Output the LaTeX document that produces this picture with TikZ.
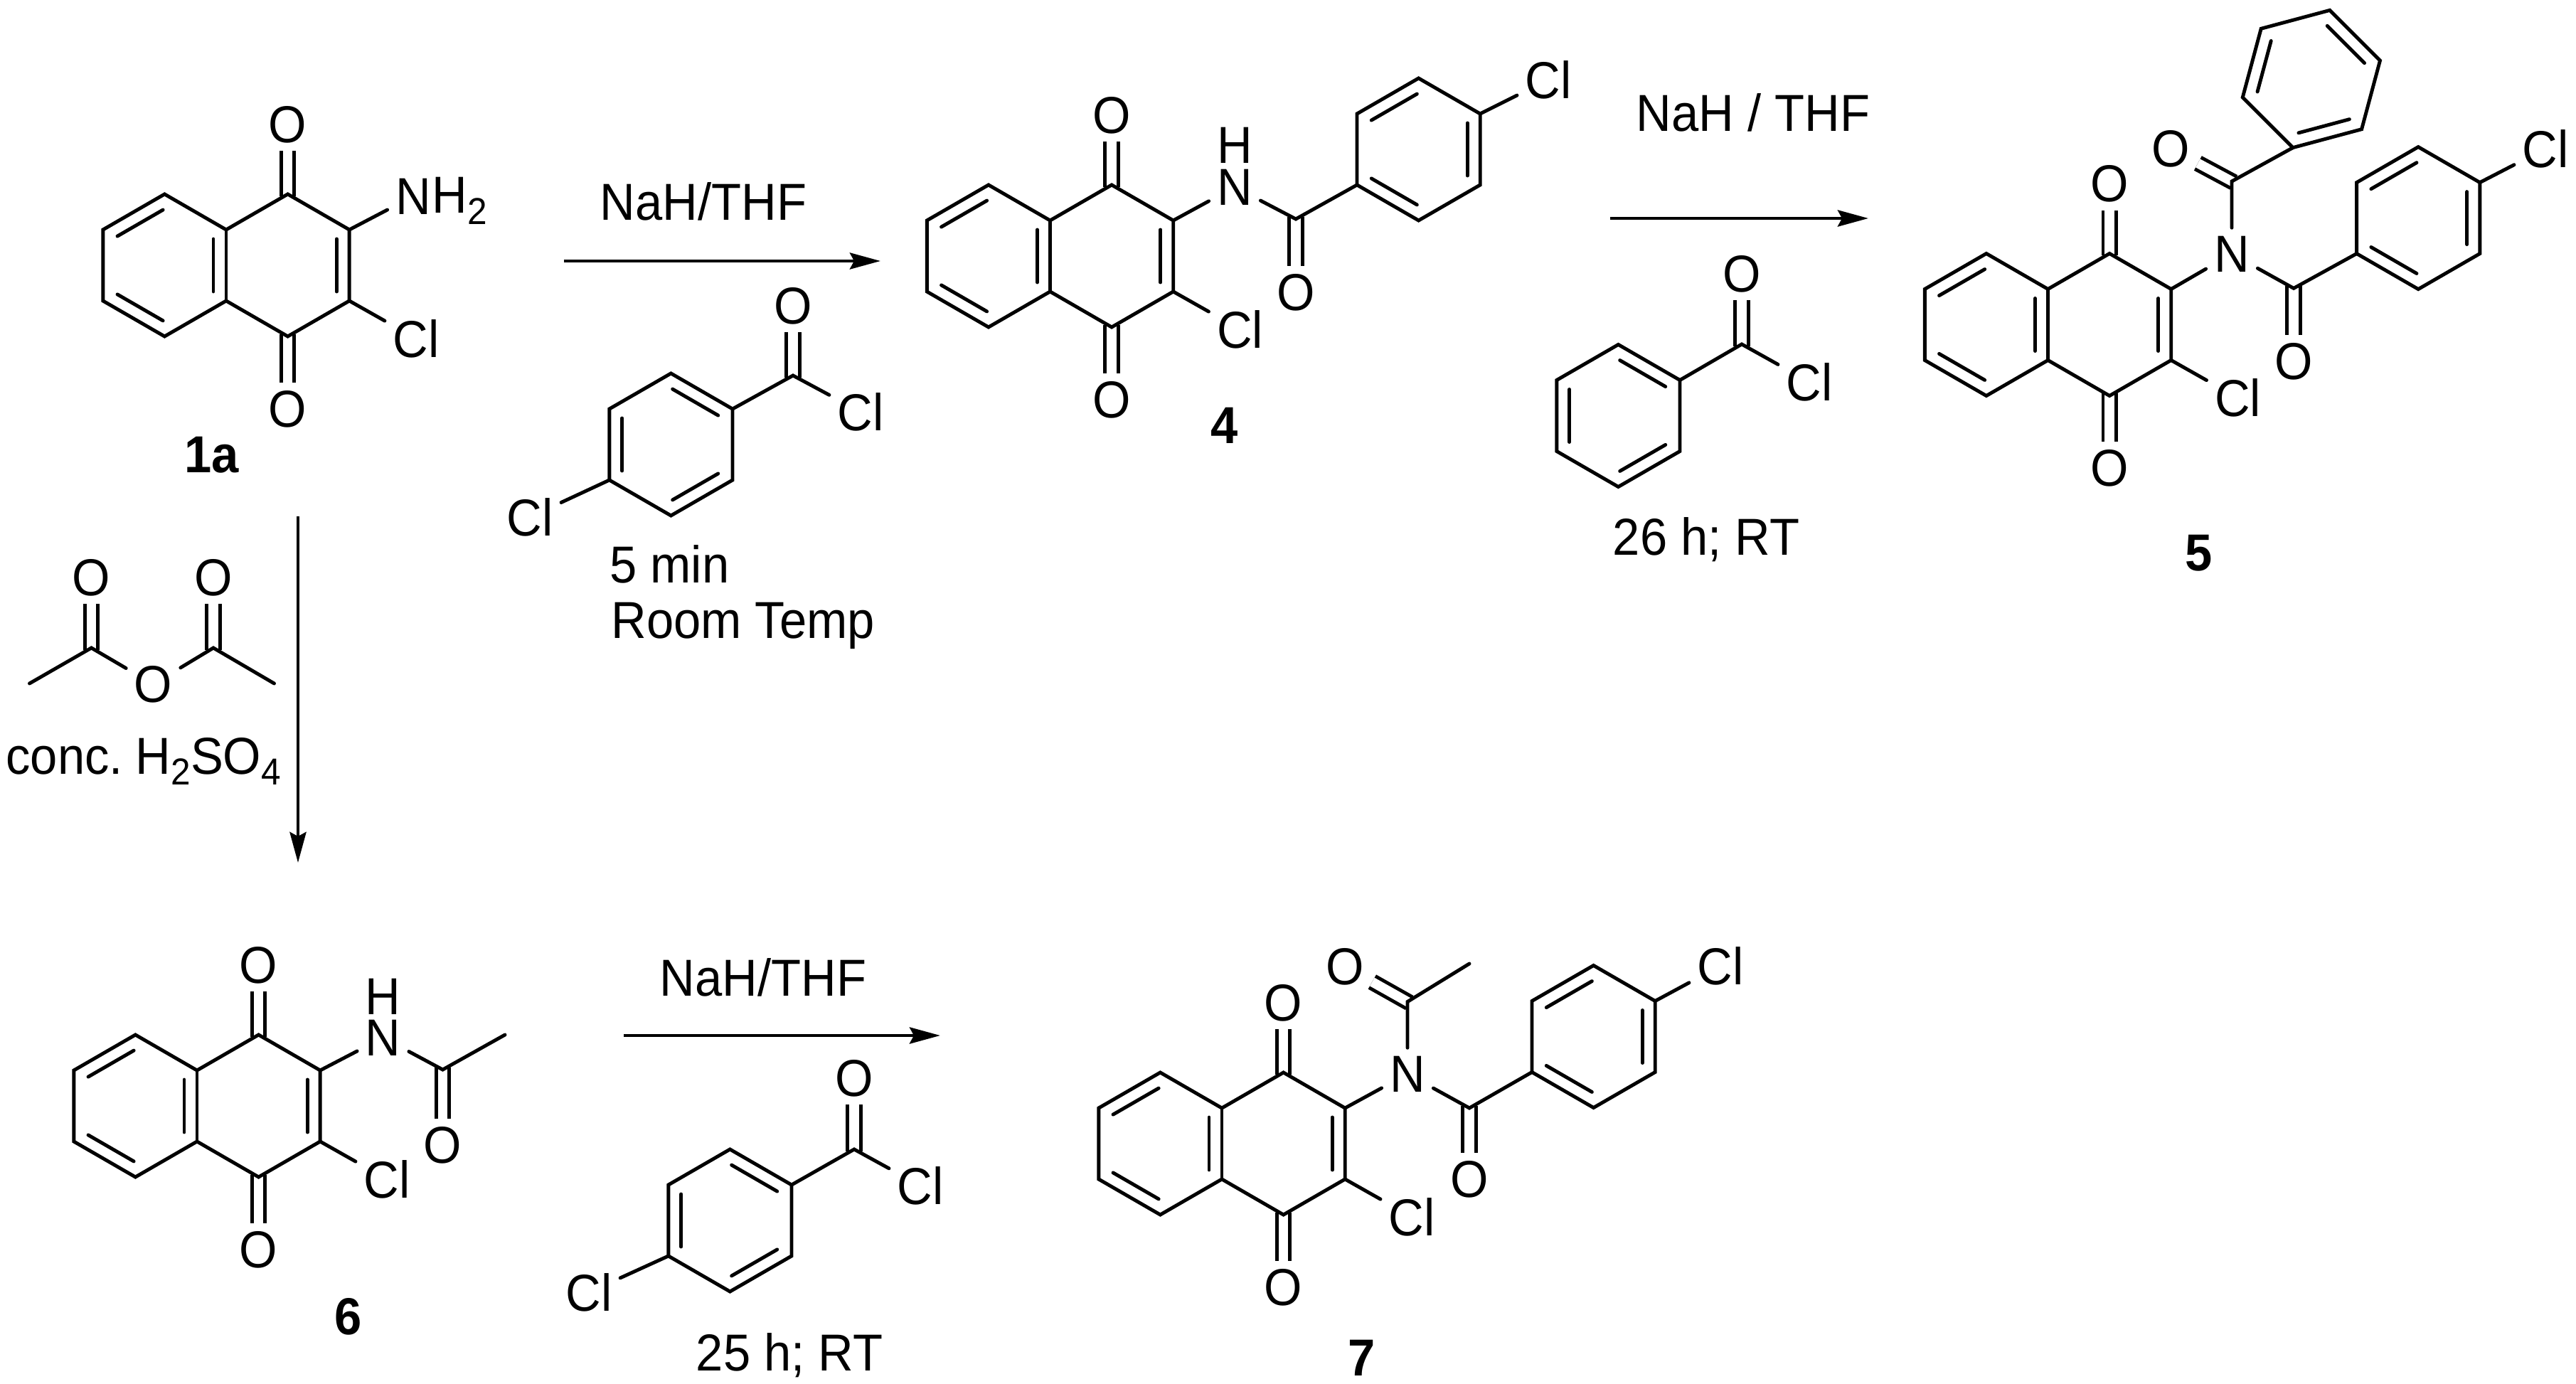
\documentclass[tikz,border=0pt]{standalone}
\usepackage{fontspec}
\setmainfont[FakeStretch=0.94]{Liberation Sans}
\usetikzlibrary{arrows.meta,calc}
\tikzset{
	every node/.style={font=\fontsize{20.8}{25}\selectfont},
	atom/.style={inner sep=2.6pt},
	atomh/.style={inner xsep=2.6pt,inner ysep=0pt},
	txt/.style={inner sep=0pt,anchor=base},
	txtl/.style={inner sep=0pt,anchor=base west},
	cmpd/.style={inner sep=0pt,anchor=base,font=\fontsize{20.8}{25}\selectfont\bfseries},
	dbl/.style={double,double distance=0.134cm,line cap=butt,shorten <=-0.03cm},
	rxn/.style={line cap=butt,-{Stealth[length=0.43cm,width=0.23cm,inset=0.06cm]}}
}
\newcommand{\chemsub}[1]{\raisebox{-4.5pt}{\fontsize{15}{15}\selectfont #1}}
\newcommand{\innerbond}[2]{\draw ($(#1)!.13!(#2)!.18cm!90:(#2)$) -- ($(#2)!.13!(#1)!.18cm!-90:(#1)$);}
\newcommand{\phenyl}[3]{
	\begin{scope}[shift={(#2)},rotate=#3]
		\coordinate (#1i) at (0,0);
		\coordinate (#1a) at (0,-1);
		\coordinate (#1b) at (.866,-1.5);
		\coordinate (#1c) at (1.732,-1);
		\coordinate (#1d) at (1.732,0);
		\coordinate (#1e) at (.866,.5);
	\end{scope}
	\draw (#1i) -- (#1a) -- (#1b) -- (#1c) -- (#1d) -- (#1e) -- cycle;
	\innerbond{#1i}{#1e}
	\innerbond{#1d}{#1c}
	\innerbond{#1b}{#1a}
}
\newcommand{\quinone}[2]{
	\begin{scope}[shift={(#2)}]
		\coordinate (#11) at (-1.732,0);
		\coordinate (#12) at (-.866,-.5);
		\coordinate (#13) at (0,0);
		\coordinate (#14) at (.866,-.5);
		\coordinate (#15) at (1.732,0);
		\coordinate (#16) at (1.732,1);
		\coordinate (#17) at (.866,1.5);
		\coordinate (#18) at (0,1);
		\coordinate (#19) at (-.866,1.5);
		\coordinate (#1x) at (-1.732,1);
		\node[atom] (#1ot) at (.866,-1.48) {O};
		\node[atom] (#1ob) at (.866,2.52) {O};
		\node[atom] (#1cl) at (2.67,1.53) {Cl};
	\end{scope}
	\draw[dbl] (#14) -- (#1ot);
	\draw[dbl] (#17) -- (#1ob);
	\draw (#11) -- (#12) -- (#13) -- (#14) -- (#15) -- (#16) -- (#17) -- (#18) -- (#19) -- (#1x) -- cycle;
	\draw (#13) -- (#18);
	\draw (#16) -- (#1cl);
	\innerbond{#1x}{#19}
	\innerbond{#18}{#13}
	\innerbond{#12}{#11}
	\innerbond{#16}{#15}
}
\begin{document}
\begin{tikzpicture}[x=1cm,y=-1cm,line width=1.4pt,line cap=round]
	\useasboundingbox (0,0) rectangle (36.22,19.46);

	\quinone{qa}{3.18,3.23}
	\node[atom] (na) at (5.81,2.76) {N};
	\node[txtl] (ha) at (6.05,3.00) {H\chemsub{2}};
	\draw (qa5) -- (na);
	\node[cmpd] (la) at (2.98,6.64) {1a};

	\coordinate (ra1) at (7.93,3.67);
	\coordinate (ra2) at (12.38,3.67);
	\draw[rxn] (ra1) -- (ra2);
	\node[txt] (ta1) at (9.89,3.10) {NaH/THF};
	\phenyl{pa}{10.30,5.75}{180}
	\coordinate (ca) at (11.15,5.28);
	\node[atom] (oca) at (11.15,4.30) {O};
	\node[atom] (cla) at (12.10,5.79) {Cl};
	\node[atom] (cpa) at (7.45,7.27) {Cl};
	\draw[dbl] (ca) -- (oca);
	\draw (pai) -- (ca) -- (cla);
	\draw (pac) -- (cpa);
	\node[txtl] (ta2) at (8.55,8.19) {5 min};
	\node[txtl] (ta3) at (8.57,8.97) {Room Temp};

	\quinone{qb}{14.765,3.10}
	\node[atomh] (nb) at (17.36,2.63) {N};
	\node[atomh] (hb) at (17.36,2.045) {H};
	\coordinate (cb) at (18.22,3.08);
	\node[atom] (ob) at (18.22,4.11) {O};
	\phenyl{pb}{19.08,2.60}{0}
	\node[atom] (clb) at (21.77,1.12) {Cl};
	\draw[dbl] (cb) -- (ob);
	\draw (qb5) -- (nb) -- (cb) -- (pbi);
	\draw (pbc) -- (clb);
	\node[cmpd] (lb) at (17.22,6.23) {4};

	\coordinate (rb1) at (22.64,3.07);
	\coordinate (rb2) at (26.27,3.07);
	\draw[rxn] (rb1) -- (rb2);
	\node[txt] (tb1) at (24.65,1.85) {NaH / THF};
	\phenyl{pc}{23.62,5.345}{180}
	\coordinate (cc) at (24.49,4.84);
	\node[atom] (occ) at (24.49,3.85) {O};
	\node[atom] (clc) at (25.44,5.37) {Cl};
	\draw[dbl] (cc) -- (occ);
	\draw (pci) -- (cc) -- (clc);
	\node[txt] (tb2) at (23.99,7.80) {26 h; RT};

	\quinone{qd}{28.795,4.065}
	\node[atom] (nd) at (31.38,3.57) {N};
	\coordinate (cd1) at (31.38,2.55);
	\node[atom] (od1) at (30.52,2.09) {O};
	\phenyl{pd}{32.24,2.076}{45}
	\coordinate (cd2) at (32.25,4.054);
	\node[atom] (od2) at (32.25,5.08) {O};
	\phenyl{pe}{33.136,3.566}{0}
	\node[atom] (cld) at (35.79,2.09) {Cl};
	\draw[dbl] (cd1) -- (od1);
	\draw[dbl] (cd2) -- (od2);
	\draw (qd5) -- (nd) -- (cd1) -- (pdi);
	\draw (nd) -- (cd2) -- (pei);
	\draw (pec) -- (cld);
	\node[cmpd] (ld) at (30.92,8.02) {5};

	\coordinate (rc1) at (4.19,7.26);
	\coordinate (rc2) at (4.19,12.13);
	\draw[rxn] (rc1) -- (rc2);
	\coordinate (ce1) at (1.285,9.11);
	\coordinate (ce2) at (3.00,9.11);
	\coordinate (me1) at (.415,9.61);
	\coordinate (me2) at (3.855,9.61);
	\node[atom] (oe1) at (1.285,8.12) {O};
	\node[atom] (oe2) at (3.00,8.12) {O};
	\node[atom] (oe) at (2.155,9.62) {O};
	\draw[dbl] (ce1) -- (oe1);
	\draw[dbl] (ce2) -- (oe2);
	\draw (me1) -- (ce1) -- (oe) -- (ce2) -- (me2);
	\node[txtl] (tc1) at (0.06,10.88) {conc.\hspace{5.2pt}H\chemsub{2}SO\chemsub{4}};

	\quinone{qf}{2.77,15.05}
	\node[atomh] (nf) at (5.385,14.59) {N};
	\node[atomh] (hf) at (5.385,14.01) {H};
	\coordinate (cf) at (6.225,15.04);
	\coordinate (mf) at (7.10,14.55);
	\node[atom] (of) at (6.225,16.10) {O};
	\draw[dbl] (cf) -- (of);
	\draw (qf5) -- (nf) -- (cf) -- (mf);
	\node[cmpd] (lf) at (4.90,18.76) {6};

	\coordinate (rd1) at (8.77,14.56);
	\coordinate (rd2) at (13.22,14.56);
	\draw[rxn] (rd1) -- (rd2);
	\node[txt] (td1) at (10.73,14.00) {NaH/THF};
	\phenyl{pg}{11.13,16.66}{180}
	\coordinate (cg) at (12.01,16.16);
	\node[atom] (ocg) at (12.01,15.16) {O};
	\node[atom] (clg) at (12.94,16.67) {Cl};
	\node[atom] (cpg) at (8.28,18.17) {Cl};
	\draw[dbl] (cg) -- (ocg);
	\draw (pgi) -- (cg) -- (clg);
	\draw (pgc) -- (cpg);
	\node[txt] (td2) at (11.10,19.27) {25 h; RT};

	\quinone{qh}{17.18,15.58}
	\node[atom] (nh) at (19.79,15.10) {N};
	\coordinate (ch1) at (19.79,14.085);
	\coordinate (mh) at (20.66,13.55);
	\node[atom] (oh1) at (18.91,13.59) {O};
	\coordinate (ch2) at (20.66,15.58);
	\node[atom] (oh2) at (20.66,16.58) {O};
	\phenyl{ph}{21.54,15.075}{0}
	\node[atom] (clh) at (24.19,13.58) {Cl};
	\draw[dbl] (ch1) -- (oh1);
	\draw[dbl] (ch2) -- (oh2);
	\draw (qh5) -- (nh) -- (ch1) -- (mh);
	\draw (nh) -- (ch2) -- (phi);
	\draw (phc) -- (clh);
	\node[cmpd] (lh) at (19.15,19.34) {7};
\end{tikzpicture}
\end{document}
